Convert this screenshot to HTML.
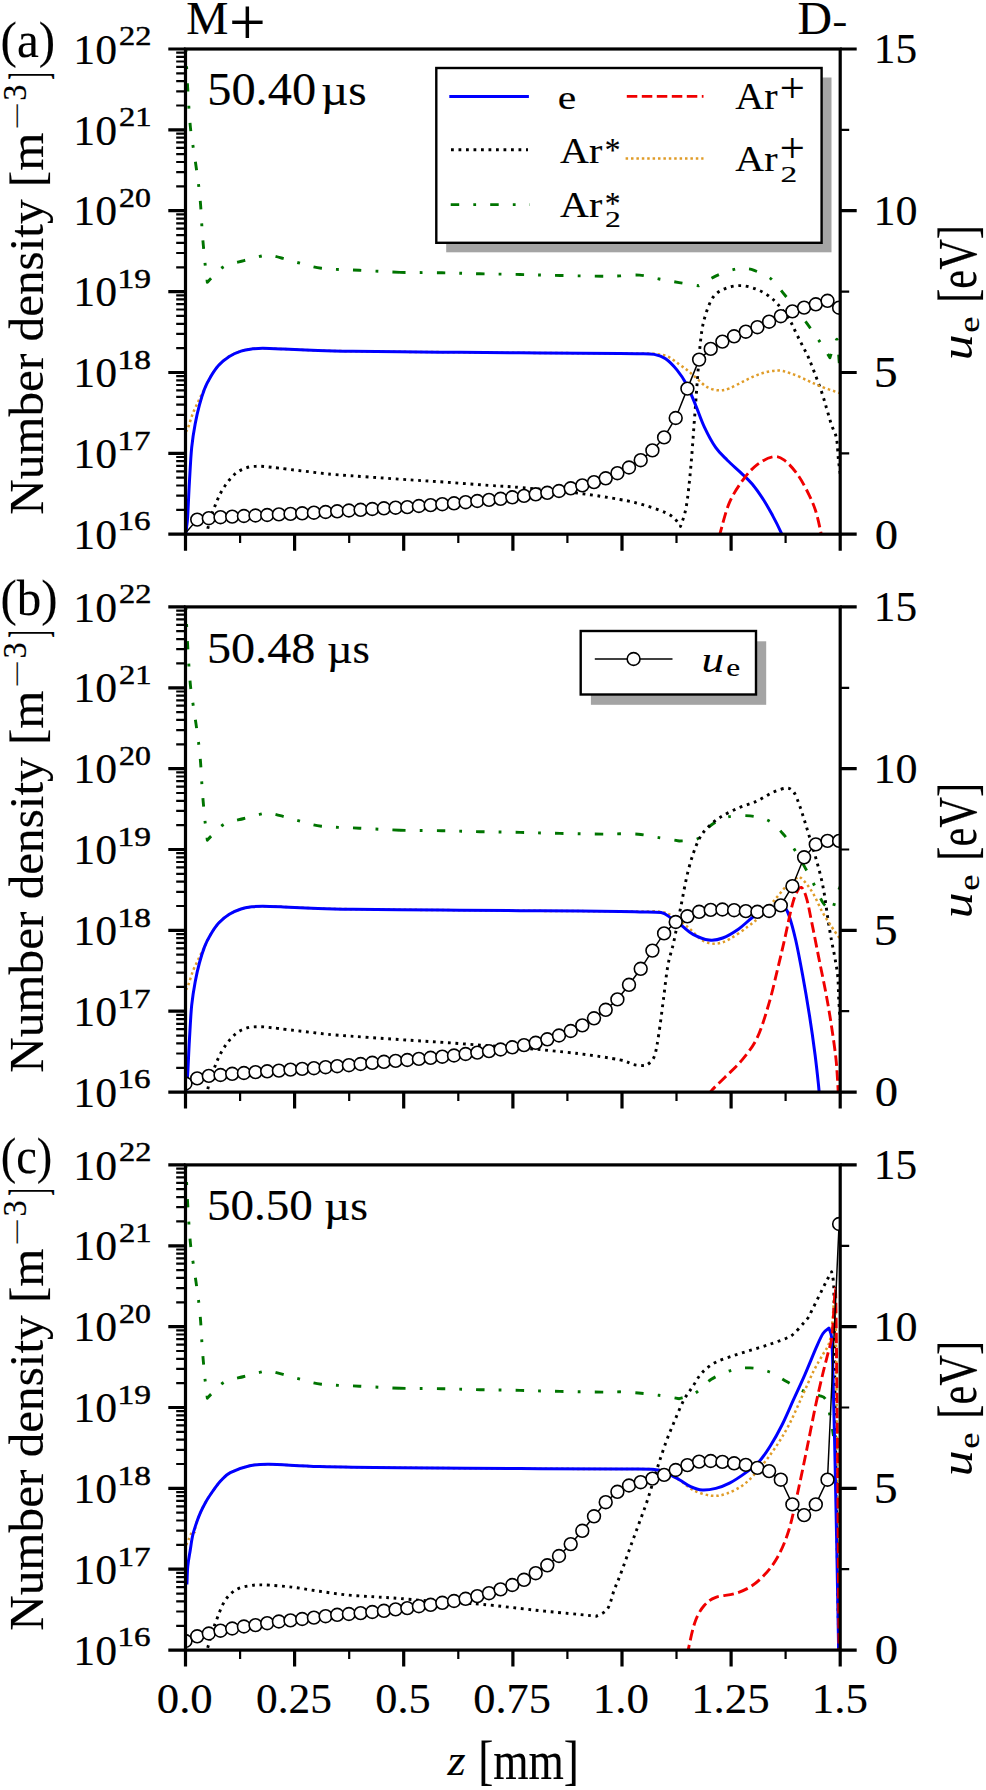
<!DOCTYPE html><html><head><meta charset="utf-8"><style>html,body{margin:0;padding:0;background:#fff;}svg{display:block;}text{font-family:'Liberation Serif', 'DejaVu Serif', serif;fill:#000;stroke:#000;stroke-width:0.15px;}circle{fill:#fff;stroke:#000;stroke-width:1.6;}</style></head><body>
<svg width="986" height="1790" viewBox="0 0 986 1790">
<rect width="986" height="1790" fill="#fff"/>
<clipPath id="c0"><rect x="185.5" y="49" width="654.7" height="485.2"/></clipPath>
<g clip-path="url(#c0)">
<path d="M185.8 50 C186.1 55.8 186.8 72.5 187.5 85 C188.2 97.5 189.3 114.8 190.2 125 C191.1 135.2 192 139.2 193 146 C194 152.8 195.1 159.5 196 166 C196.9 172.5 197.8 178.5 198.6 185 C199.4 191.5 200.1 198.3 200.6 205 C201.1 211.7 201.4 218.3 201.8 225 C202.2 231.7 202.7 238.3 203.3 245 C203.9 251.7 204.5 258.8 205.2 265 C205.9 271.2 207 279.4 207.3 282.3 L207.3 282.3 C208.2 281.3 210.1 279.1 213 276.4 C215.9 273.7 219.6 268.6 224.8 266 C230 263.4 237.7 262.3 244 260.6 C250.3 258.9 258.5 256.7 262.8 255.8 C267.1 254.9 266.6 254.9 270 255.3 C273.4 255.7 277.9 257 283 258.4 C288.1 259.8 294.3 261.8 300.7 263.4 C307.1 265 311.6 267.1 321.4 268.3 C331.2 269.5 346.2 269.6 359.3 270.3 C372.4 271 393.2 272 400 272.4" fill="none" stroke="#007400" stroke-width="2.9" stroke-dasharray="8.5 14.1 2.8 14.1" stroke-linejoin="round" stroke-dashoffset="6.28"/>
<path d="M400 272.4 C407 272.5 428.7 272.6 442 272.8 C455.3 273 467 273.5 480 273.8 C493 274.1 506.7 274.2 520 274.5 C533.3 274.8 546.3 275.2 560 275.5 C573.7 275.8 592 276.1 602 276.2 C612 276.3 617 275.9 620 275.9" fill="none" stroke="#007400" stroke-width="2.9" stroke-dasharray="8.5 14.1 2.8 14.1" stroke-linejoin="round" stroke-dashoffset="2.84"/>
<path d="M620 275.9 C623.3 275.8 633.1 274.6 639.6 275.1 C646.1 275.6 652.6 277.8 659.2 279 C665.8 280.2 672.5 281.5 679.1 282.6 C685.7 283.7 695.5 285.3 698.8 285.8 L698.8 285.8 C701.6 284.2 709.8 278.8 715.6 276.1 C721.5 273.4 729 270.6 733.9 269.4 C738.8 268.1 741.6 268.4 745 268.6 C748.4 268.8 749.8 268.6 754.2 270.4 C758.6 272.1 766.3 275 771.4 279.1 C776.5 283.2 780.5 289.9 784.6 294.8 C788.7 299.7 791.7 303.3 795.7 308.5 C799.8 313.7 804.8 320.5 808.9 326.1 C813 331.7 816.7 337 820.2 342.3 C823.7 347.6 828.3 355.1 829.9 357.7 L829.9 357.7 C830.8 355.2 833.7 345.8 835 343 C836.3 340.2 836.8 337.3 837.5 341 C838.2 344.7 838.9 360.2 839.5 365 C840.1 369.8 840.8 369.2 841 370" fill="none" stroke="#007400" stroke-width="2.9" stroke-dasharray="8.5 14.1 2.8 14.1" stroke-linejoin="round" stroke-dashoffset="24.10"/>
<path d="M206 536 C206.4 534.5 207.3 530.5 208.2 527 C209.1 523.5 210.3 518.6 211.5 515 C212.7 511.4 214.1 508.2 215.2 505.4 C216.3 502.6 217 500.6 218.1 498.3 C219.2 496 220.3 493.6 221.6 491.3 C222.9 489.1 224.3 486.9 225.7 484.8 C227.1 482.8 228.5 480.9 230.2 479 C231.9 477.1 233.8 474.9 235.7 473.3 C237.6 471.7 239.6 470.7 241.8 469.6 C244.1 468.6 246.7 467.6 249.2 467 C251.7 466.4 254.4 466.4 256.8 466.3 C259.2 466.2 261.5 466.3 263.9 466.5 C266.3 466.7 268.9 467 271.4 467.3 C273.9 467.6 275.2 467.7 279 468.1 C282.8 468.6 289 469.4 294 470 C299 470.6 304 471.1 309 471.7 C314 472.3 319 473 324 473.5 C329 474 326.3 473.9 339 474.9 C351.7 475.8 382.4 478 400 479.2 C417.6 480.4 429.7 481.1 444.6 482.1 C459.5 483.1 476.2 484.5 489.2 485.4 C502.2 486.3 507.8 486.4 522.7 487.7 C537.6 489 562.3 491.2 578.5 493.2 C594.7 495.2 609.3 497.6 620 499.5 C630.7 501.4 635.2 502.5 642.8 504.7 C650.4 506.9 660.2 510.3 665.6 512.7 C671 515.1 672.5 516.7 675 519 C677.5 521.3 679.6 525.2 680.5 526.4 L680.5 526.4 C681.5 523.2 684.5 516.7 686.2 507 C687.9 497.3 689.4 482.3 690.7 468.2 C692 454.1 693.1 437.8 694.2 422.6 C695.4 407.4 696.5 391.2 697.6 376.9 C698.7 362.6 699.7 347.3 701 337 C702.3 326.7 703.4 321.8 705.5 315 C707.6 308.2 710.2 300.9 713.6 296.5 C717 292.1 721.2 290.1 725.8 288.3 C730.4 286.5 735.9 285.5 741 285.6 C746.1 285.7 751.6 287.4 756.2 289.1 C760.8 290.8 764.9 293.3 768.4 295.8 C771.9 298.3 774.1 300.1 777.5 303.9 C780.9 307.7 785.8 313.9 788.9 318.7 C792 323.5 793.6 328.1 795.9 332.6 C798.1 337.1 800.2 341.2 802.4 345.5 C804.6 349.8 806.8 353.6 808.9 358.5 C811 363.4 813.1 369 815.3 374.7 C817.4 380.4 819.9 386.8 821.8 392.5 C823.7 398.2 825.1 403.3 826.7 408.7 C828.3 414.1 829.9 420 831.5 424.9 C833.1 429.8 835.2 432 836.4 437.9 C837.6 443.8 837.7 453.5 838.5 460.5 C839.3 467.5 840.6 476.8 841 480" fill="none" stroke="#000" stroke-width="2.9" stroke-dasharray="2.8 4.7" stroke-linejoin="round"/>
<path d="M185.8 432 C186.2 431.2 187 430.6 188.2 427.4 C189.4 424.2 191.2 417.5 193 413 C194.8 408.5 196.9 404.4 198.8 400.4 C200.7 396.3 202.7 392.6 204.6 388.7 C206.5 384.8 208.2 380.8 210.5 376.9 C212.8 373 215.6 368.6 218.7 365.2 C221.8 361.8 225.6 358.8 229.3 356.4 C233 354 237.1 352.4 241 351.1 C244.9 349.8 249.1 349.3 252.7 348.8 C256.3 348.3 257.7 348.3 262.8 348.3 C267.9 348.3 274.2 348.6 283.4 349 C292.6 349.4 306.5 350.1 318 350.5 C329.5 350.9 338.7 351.1 352.4 351.3 C366.1 351.5 382.1 351.6 400 351.8 C417.9 352 440 352.1 460 352.3 C480 352.5 500 352.7 520 352.8 C540 352.9 563.3 353.1 580 353.2 C596.7 353.3 610 353.4 620 353.5 C630 353.6 634.3 353.4 640 353.5 C645.7 353.6 649.6 353.3 654.2 353.8 C658.9 354.3 663.7 354.8 667.9 356.6 C672.1 358.4 675.9 362 679.3 364.4 C682.7 366.8 685.5 368.7 688.5 371.2 C691.5 373.7 694.6 376.6 697.6 379.2 C700.6 381.8 703.3 384.9 706.7 386.8 C710.1 388.7 714.3 390.1 718.1 390.3 C721.9 390.6 724.9 390 729.5 388.3 C734.1 386.6 740.2 382.8 745.5 380.3 C750.8 377.8 756.2 375.1 761.5 373.5 C766.8 371.9 772.5 370.5 777.5 370.5 C782.5 370.5 786.3 371.9 791.2 373.5 C796.1 375.1 802.2 378.1 807.1 380.3 C812 382.5 815.5 384.4 820.8 386.5 C826.1 388.6 835.6 391.6 839.1 392.9 C842.6 394.1 841.5 393.8 842 394" fill="none" stroke="#e09c28" stroke-width="2.5" stroke-dasharray="2.5 2.9" stroke-linejoin="round"/>
<path d="M185.8 536 C185.9 534.5 186.3 530 186.6 527 C186.9 524 187.1 525.1 187.6 517.7 C188.1 510.3 188.7 494.2 189.4 482.5 C190.1 470.8 190.7 457.1 191.7 447.3 C192.7 437.5 193.9 430.8 195.2 423.8 C196.5 416.8 197.8 411 199.4 405.1 C201 399.2 202.8 393.4 204.6 388.7 C206.4 384 208.2 380.8 210.5 376.9 C212.8 373 215.6 368.6 218.7 365.2 C221.8 361.8 225.6 358.8 229.3 356.4 C233 354 237.1 352.4 241 351.1 C244.9 349.8 249.1 349.3 252.7 348.8 C256.3 348.3 257.7 348.3 262.8 348.3 C267.9 348.3 274.2 348.6 283.4 349 C292.6 349.4 306.5 350.1 318 350.5 C329.5 350.9 338.7 351.1 352.4 351.3 C366.1 351.5 382.1 351.6 400 351.8 C417.9 352 440 352.1 460 352.3 C480 352.5 500 352.7 520 352.8 C540 352.9 563.3 353.1 580 353.2 C596.7 353.3 610 353.4 620 353.5 C630 353.6 634.3 353.6 640 353.7 C645.7 353.8 649.9 353.6 654.2 354.4 C658.5 355.2 661.8 356.1 665.6 358.7 C669.4 361.3 673.7 365.9 677.1 370.1 C680.5 374.3 683.2 378.1 686.2 383.8 C689.2 389.5 692.3 397.1 695.3 404.3 C698.3 411.5 701 419.9 704.4 427.1 C707.8 434.3 712 442.2 715.8 447.7 C719.6 453.2 723.1 456 727.3 460.2 C731.5 464.4 736.8 468.8 741 472.8 C745.2 476.8 748.6 479.6 752.4 484.2 C756.2 488.8 760.4 494.9 763.8 500.2 C767.2 505.5 770 510.8 772.9 516.1 C775.8 521.4 779.3 528.6 780.9 532.1 C782.5 535.6 782.2 536.2 782.5 537" fill="none" stroke="#0000ff" stroke-width="3.0" stroke-linejoin="round"/>
<path d="M719.3 537 C719.5 536.2 718.7 537.9 720.4 532.1 C722.1 526.3 725.7 511.1 729.5 502.4 C733.3 493.6 738.6 485.9 743.2 479.6 C747.8 473.3 752 468.6 756.9 464.8 C761.8 461 768.3 457.6 772.9 456.8 C777.5 456 780.1 457.1 784.3 460.2 C788.5 463.2 793.8 469.2 798 475.1 C802.2 481 806.4 489.5 809.4 495.6 C812.4 501.8 814.1 505.9 816 512 C817.9 518.1 819.9 527.9 820.8 532.1 C821.7 536.3 821.4 536.2 821.5 537" fill="none" stroke="#f00000" stroke-width="2.9" stroke-dasharray="10.5 4.5" stroke-linejoin="round"/>
<polyline points="185.5,533 197.2,519.6 208.8,518.2 220.5,517.2 232.2,516.6 243.9,516 255.5,515.5 267.2,515 278.9,514.4 290.5,513.9 302.2,513.3 313.9,512.7 325.6,512 337.2,511.3 348.9,510.5 360.6,509.8 372.3,509 383.9,508.3 395.6,507.7 407.3,507.1 418.9,506 430.6,505.1 442.3,504.2 454,503.3 465.6,502.2 477.3,501 489,499.9 500.6,498.8 512.3,497.3 524,495.9 535.7,494.3 547.3,492.8 559,491 570.7,488.3 582.3,485.4 594,482.1 605.7,478.3 617.4,473.2 629,467.5 640.7,460.2 652.4,450.4 664.1,437.4 675.7,418 687.4,388.6 699.1,359.6 710.7,348.9 722.4,341.6 734.1,336.3 745.8,331.7 757.4,327.2 769.1,321.7 780.8,316.2 792.4,311.4 804.1,307.6 815.8,304.3 827.5,300.8 839.1,307.7" fill="none" stroke="#000" stroke-width="1.5"/>
<circle cx="197.2" cy="519.6" r="6.4"/>
<circle cx="208.8" cy="518.2" r="6.4"/>
<circle cx="220.5" cy="517.2" r="6.4"/>
<circle cx="232.2" cy="516.6" r="6.4"/>
<circle cx="243.9" cy="516" r="6.4"/>
<circle cx="255.5" cy="515.5" r="6.4"/>
<circle cx="267.2" cy="515" r="6.4"/>
<circle cx="278.9" cy="514.4" r="6.4"/>
<circle cx="290.5" cy="513.9" r="6.4"/>
<circle cx="302.2" cy="513.3" r="6.4"/>
<circle cx="313.9" cy="512.7" r="6.4"/>
<circle cx="325.6" cy="512" r="6.4"/>
<circle cx="337.2" cy="511.3" r="6.4"/>
<circle cx="348.9" cy="510.5" r="6.4"/>
<circle cx="360.6" cy="509.8" r="6.4"/>
<circle cx="372.3" cy="509" r="6.4"/>
<circle cx="383.9" cy="508.3" r="6.4"/>
<circle cx="395.6" cy="507.7" r="6.4"/>
<circle cx="407.3" cy="507.1" r="6.4"/>
<circle cx="418.9" cy="506" r="6.4"/>
<circle cx="430.6" cy="505.1" r="6.4"/>
<circle cx="442.3" cy="504.2" r="6.4"/>
<circle cx="454" cy="503.3" r="6.4"/>
<circle cx="465.6" cy="502.2" r="6.4"/>
<circle cx="477.3" cy="501" r="6.4"/>
<circle cx="489" cy="499.9" r="6.4"/>
<circle cx="500.6" cy="498.8" r="6.4"/>
<circle cx="512.3" cy="497.3" r="6.4"/>
<circle cx="524" cy="495.9" r="6.4"/>
<circle cx="535.7" cy="494.3" r="6.4"/>
<circle cx="547.3" cy="492.8" r="6.4"/>
<circle cx="559" cy="491" r="6.4"/>
<circle cx="570.7" cy="488.3" r="6.4"/>
<circle cx="582.3" cy="485.4" r="6.4"/>
<circle cx="594" cy="482.1" r="6.4"/>
<circle cx="605.7" cy="478.3" r="6.4"/>
<circle cx="617.4" cy="473.2" r="6.4"/>
<circle cx="629" cy="467.5" r="6.4"/>
<circle cx="640.7" cy="460.2" r="6.4"/>
<circle cx="652.4" cy="450.4" r="6.4"/>
<circle cx="664.1" cy="437.4" r="6.4"/>
<circle cx="675.7" cy="418" r="6.4"/>
<circle cx="687.4" cy="388.6" r="6.4"/>
<circle cx="699.1" cy="359.6" r="6.4"/>
<circle cx="710.7" cy="348.9" r="6.4"/>
<circle cx="722.4" cy="341.6" r="6.4"/>
<circle cx="734.1" cy="336.3" r="6.4"/>
<circle cx="745.8" cy="331.7" r="6.4"/>
<circle cx="757.4" cy="327.2" r="6.4"/>
<circle cx="769.1" cy="321.7" r="6.4"/>
<circle cx="780.8" cy="316.2" r="6.4"/>
<circle cx="792.4" cy="311.4" r="6.4"/>
<circle cx="804.1" cy="307.6" r="6.4"/>
<circle cx="815.8" cy="304.3" r="6.4"/>
<circle cx="827.5" cy="300.8" r="6.4"/>
<circle cx="839.1" cy="307.7" r="6.4"/>
</g>
<rect x="185.5" y="49" width="654.7" height="485.2" fill="none" stroke="#000" stroke-width="3.2"/>
<path d="M168.3 49H185.5M840.2 49H856.7M168.3 129.9H185.5M168.3 210.7H185.5M840.2 210.7H856.7M168.3 291.6H185.5M168.3 372.5H185.5M840.2 372.5H856.7M168.3 453.3H185.5M168.3 534.2H185.5M840.2 534.2H856.7" stroke="#000" stroke-width="3.2"/>
<path d="M176.2 105.5H185.5M176.2 91.3H185.5M176.2 81.2H185.5M176.2 73.3H185.5M176.2 66.9H185.5M176.2 61.5H185.5M176.2 56.8H185.5M176.2 52.7H185.5M176.2 186.4H185.5M176.2 172.2H185.5M176.2 162H185.5M176.2 154.2H185.5M176.2 147.8H185.5M176.2 142.4H185.5M176.2 137.7H185.5M176.2 133.6H185.5M176.2 267.3H185.5M176.2 253H185.5M176.2 242.9H185.5M176.2 235.1H185.5M176.2 228.7H185.5M176.2 223.3H185.5M176.2 218.6H185.5M176.2 214.4H185.5M176.2 348.1H185.5M176.2 333.9H185.5M176.2 323.8H185.5M176.2 315.9H185.5M176.2 309.5H185.5M176.2 304.1H185.5M176.2 299.4H185.5M176.2 295.3H185.5M176.2 429H185.5M176.2 414.8H185.5M176.2 404.6H185.5M176.2 396.8H185.5M176.2 390.4H185.5M176.2 385H185.5M176.2 380.3H185.5M176.2 376.2H185.5M176.2 509.9H185.5M176.2 495.6H185.5M176.2 485.5H185.5M176.2 477.7H185.5M176.2 471.3H185.5M176.2 465.9H185.5M176.2 461.2H185.5M176.2 457H185.5M840.2 129.9H849.2M840.2 291.6H849.2M840.2 453.3H849.2M240.1 534.2V543M349.2 534.2V543M458.3 534.2V543M567.4 534.2V543M676.5 534.2V543M785.6 534.2V543" stroke="#000" stroke-width="2.2"/>
<path d="M185.5 534.2V550.7M294.6 534.2V550.7M403.7 534.2V550.7M512.9 534.2V550.7M622 534.2V550.7M731.1 534.2V550.7M840.2 534.2V550.7" stroke="#000" stroke-width="3.2"/>
<text x="73.35" y="63.68" font-size="42.53" textLength="43.82" lengthAdjust="spacingAndGlyphs">10</text>
<text x="119.08" y="45.40" font-size="26.88" textLength="32.41" lengthAdjust="spacingAndGlyphs" style="stroke-width:0.45px">22</text>
<text x="73.35" y="144.55" font-size="42.53" textLength="43.82" lengthAdjust="spacingAndGlyphs">10</text>
<text x="119.07" y="126.27" font-size="26.88" textLength="32.59" lengthAdjust="spacingAndGlyphs" style="stroke-width:0.45px">21</text>
<text x="73.35" y="225.42" font-size="42.53" textLength="43.82" lengthAdjust="spacingAndGlyphs">10</text>
<text x="119.10" y="206.88" font-size="26.38" textLength="31.81" lengthAdjust="spacingAndGlyphs" style="stroke-width:0.45px">20</text>
<text x="73.35" y="306.28" font-size="42.53" textLength="43.82" lengthAdjust="spacingAndGlyphs">10</text>
<text x="117.55" y="287.74" font-size="26.49" textLength="33.52" lengthAdjust="spacingAndGlyphs" style="stroke-width:0.45px">19</text>
<text x="73.35" y="387.15" font-size="42.53" textLength="43.82" lengthAdjust="spacingAndGlyphs">10</text>
<text x="117.56" y="368.61" font-size="26.38" textLength="33.41" lengthAdjust="spacingAndGlyphs" style="stroke-width:0.45px">18</text>
<text x="73.35" y="468.02" font-size="42.53" textLength="43.82" lengthAdjust="spacingAndGlyphs">10</text>
<text x="117.59" y="449.73" font-size="26.96" textLength="33.06" lengthAdjust="spacingAndGlyphs" style="stroke-width:0.45px">17</text>
<text x="73.35" y="548.88" font-size="42.53" textLength="43.82" lengthAdjust="spacingAndGlyphs">10</text>
<text x="117.59" y="530.34" font-size="26.49" textLength="33.09" lengthAdjust="spacingAndGlyphs" style="stroke-width:0.45px">16</text>
<text x="873.79" y="63.38" font-size="42.99" textLength="43.30" lengthAdjust="spacingAndGlyphs">15</text>
<text x="873.53" y="225.12" font-size="42.68" textLength="44.05" lengthAdjust="spacingAndGlyphs">10</text>
<text x="873.82" y="386.84" font-size="43.34" textLength="23.96" lengthAdjust="spacingAndGlyphs">5</text>
<text x="874.82" y="548.58" font-size="42.68" textLength="23.36" lengthAdjust="spacingAndGlyphs">0</text>
<g transform="translate(43.0 514) rotate(-90)">
<text x="-0.82" y="0.00" font-size="48.72" textLength="382.28" lengthAdjust="spacingAndGlyphs">Number density [m</text>
<text x="384.45" y="-17.70" font-size="24.09" textLength="27.75" lengthAdjust="spacingAndGlyphs">−</text>
<text x="413.36" y="-17.32" font-size="32.74" textLength="16.10" lengthAdjust="spacingAndGlyphs">3</text>
<text x="434.19" y="3.80" font-size="55.34" textLength="7.48" lengthAdjust="spacingAndGlyphs">]</text>
</g>
<g transform="translate(973.0 359.1) rotate(-90)">
<text x="-1.17" y="-0.95" font-size="46.74" textLength="25.84" lengthAdjust="spacingAndGlyphs" font-style="italic" style="stroke-width:0">u</text>
<text x="26.38" y="5.51" font-size="29.73" textLength="16.19" lengthAdjust="spacingAndGlyphs">e</text>
<text x="56.35" y="2.52" font-size="55.94" textLength="77.70" lengthAdjust="spacingAndGlyphs">[eV]</text>
</g>
<clipPath id="c1"><rect x="185.5" y="606.9" width="654.7" height="485.2"/></clipPath>
<g clip-path="url(#c1)">
<path d="M185.8 607.9 C186.1 613.7 186.8 630.4 187.5 642.9 C188.2 655.4 189.3 672.7 190.2 682.9 C191.1 693.1 192 697.1 193 703.9 C194 710.7 195.1 717.4 196 723.9 C196.9 730.4 197.8 736.4 198.6 742.9 C199.4 749.4 200.1 756.2 200.6 762.9 C201.1 769.6 201.4 776.2 201.8 782.9 C202.2 789.6 202.7 796.2 203.3 802.9 C203.9 809.6 204.5 816.7 205.2 822.9 C205.9 829.1 207 837.3 207.3 840.2 L207.3 840.2 C208.2 839.2 210.1 837 213 834.3 C215.9 831.6 219.6 826.5 224.8 823.9 C230 821.3 237.7 820.2 244 818.5 C250.3 816.8 258.5 814.6 262.8 813.7 C267.1 812.8 266.6 812.8 270 813.2 C273.4 813.6 277.9 814.9 283 816.3 C288.1 817.6 294.3 819.6 300.7 821.3 C307.1 822.9 311.6 825.1 321.4 826.2 C331.2 827.4 346.2 827.5 359.3 828.2 C372.4 828.9 393.2 829.9 400 830.3" fill="none" stroke="#007400" stroke-width="2.9" stroke-dasharray="8.5 14.1 2.8 14.1" stroke-linejoin="round" stroke-dashoffset="6.28"/>
<path d="M400 830.3 C407 830.4 428.7 830.5 442 830.7 C455.3 830.9 467 831.4 480 831.7 C493 832 506.7 832.1 520 832.4 C533.3 832.7 546.3 833.1 560 833.4 C573.7 833.7 592 834 602 834.1 C612 834.2 617 833.8 620 833.8" fill="none" stroke="#007400" stroke-width="2.9" stroke-dasharray="8.5 14.1 2.8 14.1" stroke-linejoin="round" stroke-dashoffset="2.84"/>
<path d="M620 833.8 C623 833.9 631.8 833.6 638.3 834.2 C644.8 834.8 652 836.5 658.8 837.6 C665.6 838.7 675.9 840.4 679.3 841 L679.3 841 C682.3 840.6 692.3 841.4 697.6 838.7 C702.9 836 706.3 828.6 711.3 825 C716.2 821.4 720.8 818.6 727.3 817.1 C733.8 815.6 743.1 815.2 750.1 815.9 C757.1 816.6 763.8 818 769.5 821.2 C775.2 824.4 779.9 830.2 784.3 835.3 C788.7 840.4 792.2 846 795.8 851.6 C799.3 857.2 802.5 862.9 805.6 868.6 C808.7 874.3 811.6 879.8 814.6 885.6 C817.6 891.4 820.5 899.3 823.5 903.5 C826.5 907.7 831 909.4 832.5 910.6 L832.5 910.6 C833.2 907.9 835.5 898.8 836.9 894.5 C838.3 890.2 840.3 886.6 841 885" fill="none" stroke="#007400" stroke-width="2.9" stroke-dasharray="8.5 14.1 2.8 14.1" stroke-linejoin="round" stroke-dashoffset="24.24"/>
<path d="M206 1096.4 C206.4 1094.9 207.3 1090.9 208.2 1087.4 C209.1 1083.9 210.3 1079 211.5 1075.4 C212.7 1071.8 214.1 1068.6 215.2 1065.8 C216.3 1063 217 1061 218.1 1058.7 C219.2 1056.4 220.3 1054 221.6 1051.7 C222.9 1049.5 224.3 1047.2 225.7 1045.2 C227.1 1043.2 228.5 1041.3 230.2 1039.4 C231.9 1037.5 233.8 1035.3 235.7 1033.7 C237.6 1032.1 239.6 1031 241.8 1030 C244.1 1029 246.7 1028 249.2 1027.4 C251.7 1026.9 254.4 1026.8 256.8 1026.7 C259.2 1026.6 261.5 1026.7 263.9 1026.9 C266.3 1027.1 268.9 1027.4 271.4 1027.7 C273.9 1028 275.2 1028 279 1028.5 C282.8 1029 289 1029.8 294 1030.4 C299 1031 304 1031.5 309 1032.1 C314 1032.7 319 1033.4 324 1033.9 C329 1034.4 326.3 1034.3 339 1035.3 C351.7 1036.2 382.4 1038.4 400 1039.6 C417.6 1040.8 429.7 1041.5 444.6 1042.5 C459.5 1043.5 476.2 1044.9 489.2 1045.8 C502.2 1046.7 507.8 1046.8 522.7 1048.1 C537.6 1049.4 562.3 1051.6 578.5 1053.6 C594.7 1055.6 610.8 1058.1 620 1059.9 C629.2 1061.8 629.3 1063.7 633.7 1064.7 C638.1 1065.7 644.1 1065.6 646.2 1065.8 L646.2 1065.8 C647.5 1064.3 652.1 1062 654.2 1056.7 C656.3 1051.4 657.3 1043.4 658.8 1033.9 C660.3 1024.4 661.9 1011 663.4 999.6 C664.9 988.2 666.2 974.9 667.9 965.4 C669.6 955.9 671.5 952.1 673.6 942.6 C675.7 933.1 678 920.5 680.5 908.3 C683 896.1 685.6 880.5 688.5 869.5 C691.4 858.5 694.6 849 697.6 842.2 C700.6 835.4 702.9 832.7 706.7 828.5 C710.5 824.3 715.1 820.5 720.4 817.1 C725.7 813.7 732.6 810.6 738.7 807.9 C744.8 805.2 751.3 803.7 756.9 801.1 C762.5 798.5 767.5 794.7 772.5 792.5 C777.5 790.3 783.2 788.1 786.8 788.1 C790.4 788.1 791.9 789.7 794 792.5 C796.1 795.3 797.6 800.2 799.4 805 C801.2 809.8 802.9 815.5 804.7 821.2 C806.5 826.9 808.3 833 810.1 839 C811.9 845 813.7 850.6 815.5 856.9 C817.3 863.2 819.3 870.3 820.8 876.6 C822.3 882.9 823.2 887.3 824.4 894.5 C825.6 901.7 826.8 911.9 828 919.6 C829.2 927.4 830.4 934.5 831.6 941 C832.8 947.5 834.1 952.9 835.1 958.9 C836.1 964.9 837.2 970.2 837.8 976.8 C838.4 983.4 838.3 991.1 838.7 998.3 C839.1 1005.5 839.8 1016.4 840 1020" fill="none" stroke="#000" stroke-width="2.9" stroke-dasharray="2.8 4.7" stroke-linejoin="round"/>
<path d="M185.8 989.9 C186.2 989.1 187 988.5 188.2 985.3 C189.4 982.1 191.2 975.4 193 970.9 C194.8 966.4 196.9 962.3 198.8 958.3 C200.7 954.2 202.7 950.5 204.6 946.6 C206.5 942.7 208.2 938.7 210.5 934.8 C212.8 930.9 215.6 926.5 218.7 923.1 C221.8 919.7 225.6 916.6 229.3 914.3 C233 911.9 237.1 910.3 241 909 C244.9 907.7 249.1 907.2 252.7 906.7 C256.3 906.2 257.7 906.2 262.8 906.2 C267.9 906.2 274.2 906.5 283.4 906.9 C292.6 907.3 306.5 908 318 908.4 C329.5 908.8 338.7 909 352.4 909.2 C366.1 909.4 382.1 909.5 400 909.7 C417.9 909.9 440 910 460 910.2 C480 910.4 500 910.6 520 910.7 C540 910.9 563.3 911 580 911.1 C596.7 911.2 610 911.3 620 911.4 C630 911.5 633.1 911.5 640 911.6 C646.9 911.7 655.3 910.8 661.1 911.8 C666.9 912.8 670.2 914.9 674.8 917.5 C679.4 920.1 683.9 923.9 688.5 927.7 C693.1 931.5 697.7 937.6 702.2 940.3 C706.8 943 711.2 943.9 715.8 943.7 C720.3 943.5 724.2 942 729.5 939.1 C734.8 936.2 742.5 930.6 747.8 926.6 C753.1 922.6 756.9 919.8 761.5 915.2 C766.1 910.6 770.6 904.5 775.2 899.2 C779.8 893.9 785.2 886.8 788.9 883.2 C792.6 879.6 795.7 878.5 797.6 877.5 C799.5 876.5 798.8 876.5 800.3 877.5 C801.8 878.5 804.3 881 806.5 883.8 C808.7 886.6 811 889.7 813.7 894.5 C816.4 899.3 819.6 907 822.6 912.4 C825.6 917.8 829.1 922.8 831.6 926.7 C834.1 930.6 836.1 933.5 837.8 935.7 C839.5 937.9 841.3 939.3 842 940" fill="none" stroke="#e09c28" stroke-width="2.5" stroke-dasharray="2.5 2.9" stroke-linejoin="round"/>
<path d="M185.8 1093.9 C185.9 1092.4 186.3 1088 186.6 1084.9 C186.9 1081.9 187.1 1083 187.6 1075.6 C188.1 1068.2 188.7 1052.1 189.4 1040.4 C190.1 1028.7 190.7 1015 191.7 1005.2 C192.7 995.4 193.9 988.7 195.2 981.7 C196.5 974.7 197.8 968.9 199.4 963 C201 957.1 202.8 951.3 204.6 946.6 C206.4 941.9 208.2 938.7 210.5 934.8 C212.8 930.9 215.6 926.5 218.7 923.1 C221.8 919.7 225.6 916.6 229.3 914.3 C233 911.9 237.1 910.3 241 909 C244.9 907.7 249.1 907.2 252.7 906.7 C256.3 906.2 257.7 906.2 262.8 906.2 C267.9 906.2 274.2 906.5 283.4 906.9 C292.6 907.3 306.5 908 318 908.4 C329.5 908.8 338.7 909 352.4 909.2 C366.1 909.4 382.1 909.5 400 909.7 C417.9 909.9 440 910 460 910.2 C480 910.4 500 910.6 520 910.7 C540 910.9 563.3 911 580 911.1 C596.7 911.2 610 911.3 620 911.4 C630 911.5 633.1 911.7 640 911.9 C646.9 912.1 656.1 911.7 661.1 912.6 C666.1 913.5 666.8 915.4 670.2 917.5 C673.6 919.6 677.8 922.7 681.6 925.5 C685.4 928.3 688.4 931.9 693 934.3 C697.6 936.7 704 939.4 709 940 C714 940.6 717.8 939.9 722.7 938 C727.7 936.1 733.8 932.3 738.7 928.9 C743.7 925.5 747.9 920.7 752.4 917.5 C756.9 914.3 761.7 911.3 766 909.5 C770.3 907.7 775 906.9 778 906.5 C781 906.1 782.5 905.5 784.3 907 C786.1 908.5 787 909.7 788.9 915.2 C790.8 920.7 793.4 930 795.7 940 C798 950 800.3 962.5 802.6 975 C804.9 987.5 807.3 1001.7 809.4 1015 C811.5 1028.3 813.6 1043.3 815.1 1055 C816.6 1066.7 817.8 1078.3 818.5 1085 C819.2 1091.7 819.2 1093.3 819.3 1095" fill="none" stroke="#0000ff" stroke-width="3.0" stroke-linejoin="round"/>
<path d="M710 1095 C710.2 1094.3 708.8 1093.9 711.3 1090.9 C713.8 1087.9 720 1082.2 725 1077.2 C730 1072.2 735.7 1067.7 741 1061.2 C746.3 1054.7 752.2 1048 756.9 1038.4 C761.5 1028.8 765.4 1015.5 768.9 1003.7 C772.4 992 775.2 978.9 777.9 967.9 C780.6 956.9 782.8 947.4 785 937.5 C787.2 927.6 789.5 916 791.3 908.8 C793.1 901.6 794.1 898.1 795.8 894.5 C797.4 890.9 799.4 886.8 801.2 887.4 C803 888 804.7 892.1 806.5 898.1 C808.3 904.1 809.8 913 811.9 923.1 C814 933.2 816.6 947 819 958.9 C821.4 970.8 824.1 983.4 826.2 994.7 C828.3 1006 830 1016.2 831.6 1026.9 C833.2 1037.6 835 1049.5 836 1059.1 C837 1068.6 837.4 1078.2 837.8 1084.2 C838.2 1090.2 838.2 1093.2 838.3 1095" fill="none" stroke="#f00000" stroke-width="2.9" stroke-dasharray="10.5 4.5" stroke-linejoin="round"/>
<polyline points="185.5,1083.5 197.2,1078.4 208.8,1075.9 220.5,1075 232.2,1073.8 243.9,1073 255.5,1072.1 267.2,1071.3 278.9,1070.6 290.5,1069.6 302.2,1068.9 313.9,1068.2 325.6,1067.2 337.2,1066.2 348.9,1065.2 360.6,1064 372.3,1062.8 383.9,1061.8 395.6,1060.9 407.3,1060 418.9,1058.9 430.6,1057.8 442.3,1056.7 454,1055.5 465.6,1054 477.3,1052.6 489,1051.1 500.6,1049.5 512.3,1047.3 524,1045.1 535.7,1042.8 547.3,1039.3 559,1035.5 570.7,1031 582.3,1025.4 594,1018.3 605.7,1009.8 617.4,999.4 629,984.8 640.7,968.8 652.4,950.6 664.1,933.4 675.7,922 687.4,916.3 699.1,911.8 710.7,909.9 722.4,909.5 734.1,910.2 745.8,911.1 757.4,911.8 769.1,911 780.8,905.4 792.4,886.2 804.1,857.3 815.8,844.4 827.5,840.9 839.1,840.9" fill="none" stroke="#000" stroke-width="1.5"/>
<circle cx="185.5" cy="1083.5" r="6.4"/>
<circle cx="197.2" cy="1078.4" r="6.4"/>
<circle cx="208.8" cy="1075.9" r="6.4"/>
<circle cx="220.5" cy="1075" r="6.4"/>
<circle cx="232.2" cy="1073.8" r="6.4"/>
<circle cx="243.9" cy="1073" r="6.4"/>
<circle cx="255.5" cy="1072.1" r="6.4"/>
<circle cx="267.2" cy="1071.3" r="6.4"/>
<circle cx="278.9" cy="1070.6" r="6.4"/>
<circle cx="290.5" cy="1069.6" r="6.4"/>
<circle cx="302.2" cy="1068.9" r="6.4"/>
<circle cx="313.9" cy="1068.2" r="6.4"/>
<circle cx="325.6" cy="1067.2" r="6.4"/>
<circle cx="337.2" cy="1066.2" r="6.4"/>
<circle cx="348.9" cy="1065.2" r="6.4"/>
<circle cx="360.6" cy="1064" r="6.4"/>
<circle cx="372.3" cy="1062.8" r="6.4"/>
<circle cx="383.9" cy="1061.8" r="6.4"/>
<circle cx="395.6" cy="1060.9" r="6.4"/>
<circle cx="407.3" cy="1060" r="6.4"/>
<circle cx="418.9" cy="1058.9" r="6.4"/>
<circle cx="430.6" cy="1057.8" r="6.4"/>
<circle cx="442.3" cy="1056.7" r="6.4"/>
<circle cx="454" cy="1055.5" r="6.4"/>
<circle cx="465.6" cy="1054" r="6.4"/>
<circle cx="477.3" cy="1052.6" r="6.4"/>
<circle cx="489" cy="1051.1" r="6.4"/>
<circle cx="500.6" cy="1049.5" r="6.4"/>
<circle cx="512.3" cy="1047.3" r="6.4"/>
<circle cx="524" cy="1045.1" r="6.4"/>
<circle cx="535.7" cy="1042.8" r="6.4"/>
<circle cx="547.3" cy="1039.3" r="6.4"/>
<circle cx="559" cy="1035.5" r="6.4"/>
<circle cx="570.7" cy="1031" r="6.4"/>
<circle cx="582.3" cy="1025.4" r="6.4"/>
<circle cx="594" cy="1018.3" r="6.4"/>
<circle cx="605.7" cy="1009.8" r="6.4"/>
<circle cx="617.4" cy="999.4" r="6.4"/>
<circle cx="629" cy="984.8" r="6.4"/>
<circle cx="640.7" cy="968.8" r="6.4"/>
<circle cx="652.4" cy="950.6" r="6.4"/>
<circle cx="664.1" cy="933.4" r="6.4"/>
<circle cx="675.7" cy="922" r="6.4"/>
<circle cx="687.4" cy="916.3" r="6.4"/>
<circle cx="699.1" cy="911.8" r="6.4"/>
<circle cx="710.7" cy="909.9" r="6.4"/>
<circle cx="722.4" cy="909.5" r="6.4"/>
<circle cx="734.1" cy="910.2" r="6.4"/>
<circle cx="745.8" cy="911.1" r="6.4"/>
<circle cx="757.4" cy="911.8" r="6.4"/>
<circle cx="769.1" cy="911" r="6.4"/>
<circle cx="780.8" cy="905.4" r="6.4"/>
<circle cx="792.4" cy="886.2" r="6.4"/>
<circle cx="804.1" cy="857.3" r="6.4"/>
<circle cx="815.8" cy="844.4" r="6.4"/>
<circle cx="827.5" cy="840.9" r="6.4"/>
<circle cx="839.1" cy="840.9" r="6.4"/>
</g>
<rect x="185.5" y="606.9" width="654.7" height="485.2" fill="none" stroke="#000" stroke-width="3.2"/>
<path d="M168.3 606.9H185.5M840.2 606.9H856.7M168.3 687.8H185.5M168.3 768.6H185.5M840.2 768.6H856.7M168.3 849.5H185.5M168.3 930.4H185.5M840.2 930.4H856.7M168.3 1011.2H185.5M168.3 1092.1H185.5M840.2 1092.1H856.7" stroke="#000" stroke-width="3.2"/>
<path d="M176.2 663.4H185.5M176.2 649.2H185.5M176.2 639.1H185.5M176.2 631.2H185.5M176.2 624.8H185.5M176.2 619.4H185.5M176.2 614.7H185.5M176.2 610.6H185.5M176.2 744.3H185.5M176.2 730.1H185.5M176.2 719.9H185.5M176.2 712.1H185.5M176.2 705.7H185.5M176.2 700.3H185.5M176.2 695.6H185.5M176.2 691.5H185.5M176.2 825.2H185.5M176.2 810.9H185.5M176.2 800.8H185.5M176.2 793H185.5M176.2 786.6H185.5M176.2 781.2H185.5M176.2 776.5H185.5M176.2 772.3H185.5M176.2 906H185.5M176.2 891.8H185.5M176.2 881.7H185.5M176.2 873.8H185.5M176.2 867.4H185.5M176.2 862H185.5M176.2 857.3H185.5M176.2 853.2H185.5M176.2 986.9H185.5M176.2 972.7H185.5M176.2 962.5H185.5M176.2 954.7H185.5M176.2 948.3H185.5M176.2 942.9H185.5M176.2 938.2H185.5M176.2 934.1H185.5M176.2 1067.8H185.5M176.2 1053.5H185.5M176.2 1043.4H185.5M176.2 1035.6H185.5M176.2 1029.2H185.5M176.2 1023.8H185.5M176.2 1019.1H185.5M176.2 1014.9H185.5M840.2 687.8H849.2M840.2 849.5H849.2M840.2 1011.2H849.2M240.1 1092.1V1100.9M349.2 1092.1V1100.9M458.3 1092.1V1100.9M567.4 1092.1V1100.9M676.5 1092.1V1100.9M785.6 1092.1V1100.9" stroke="#000" stroke-width="2.2"/>
<path d="M185.5 1092.1V1108.6M294.6 1092.1V1108.6M403.7 1092.1V1108.6M512.9 1092.1V1108.6M622 1092.1V1108.6M731.1 1092.1V1108.6M840.2 1092.1V1108.6" stroke="#000" stroke-width="3.2"/>
<text x="73.35" y="621.58" font-size="42.53" textLength="43.82" lengthAdjust="spacingAndGlyphs">10</text>
<text x="119.08" y="603.30" font-size="26.88" textLength="32.41" lengthAdjust="spacingAndGlyphs" style="stroke-width:0.45px">22</text>
<text x="73.35" y="702.45" font-size="42.53" textLength="43.82" lengthAdjust="spacingAndGlyphs">10</text>
<text x="119.07" y="684.17" font-size="26.88" textLength="32.59" lengthAdjust="spacingAndGlyphs" style="stroke-width:0.45px">21</text>
<text x="73.35" y="783.32" font-size="42.53" textLength="43.82" lengthAdjust="spacingAndGlyphs">10</text>
<text x="119.10" y="764.78" font-size="26.38" textLength="31.81" lengthAdjust="spacingAndGlyphs" style="stroke-width:0.45px">20</text>
<text x="73.35" y="864.18" font-size="42.53" textLength="43.82" lengthAdjust="spacingAndGlyphs">10</text>
<text x="117.55" y="845.64" font-size="26.49" textLength="33.52" lengthAdjust="spacingAndGlyphs" style="stroke-width:0.45px">19</text>
<text x="73.35" y="945.05" font-size="42.53" textLength="43.82" lengthAdjust="spacingAndGlyphs">10</text>
<text x="117.56" y="926.51" font-size="26.38" textLength="33.41" lengthAdjust="spacingAndGlyphs" style="stroke-width:0.45px">18</text>
<text x="73.35" y="1025.92" font-size="42.53" textLength="43.82" lengthAdjust="spacingAndGlyphs">10</text>
<text x="117.59" y="1007.63" font-size="26.96" textLength="33.06" lengthAdjust="spacingAndGlyphs" style="stroke-width:0.45px">17</text>
<text x="73.35" y="1106.78" font-size="42.53" textLength="43.82" lengthAdjust="spacingAndGlyphs">10</text>
<text x="117.59" y="1088.24" font-size="26.49" textLength="33.09" lengthAdjust="spacingAndGlyphs" style="stroke-width:0.45px">16</text>
<text x="873.79" y="621.28" font-size="42.99" textLength="43.30" lengthAdjust="spacingAndGlyphs">15</text>
<text x="873.53" y="783.02" font-size="42.68" textLength="44.05" lengthAdjust="spacingAndGlyphs">10</text>
<text x="873.82" y="944.74" font-size="43.34" textLength="23.96" lengthAdjust="spacingAndGlyphs">5</text>
<text x="874.82" y="1106.48" font-size="42.68" textLength="23.36" lengthAdjust="spacingAndGlyphs">0</text>
<g transform="translate(43.0 1071.9) rotate(-90)">
<text x="-0.82" y="0.00" font-size="48.72" textLength="382.28" lengthAdjust="spacingAndGlyphs">Number density [m</text>
<text x="384.45" y="-17.70" font-size="24.09" textLength="27.75" lengthAdjust="spacingAndGlyphs">−</text>
<text x="413.36" y="-17.32" font-size="32.74" textLength="16.10" lengthAdjust="spacingAndGlyphs">3</text>
<text x="434.19" y="3.80" font-size="55.34" textLength="7.48" lengthAdjust="spacingAndGlyphs">]</text>
</g>
<g transform="translate(973.0 917) rotate(-90)">
<text x="-1.17" y="-0.95" font-size="46.74" textLength="25.84" lengthAdjust="spacingAndGlyphs" font-style="italic" style="stroke-width:0">u</text>
<text x="26.38" y="5.51" font-size="29.73" textLength="16.19" lengthAdjust="spacingAndGlyphs">e</text>
<text x="56.35" y="2.52" font-size="55.94" textLength="77.70" lengthAdjust="spacingAndGlyphs">[eV]</text>
</g>
<clipPath id="c2"><rect x="185.5" y="1164.9" width="654.7" height="485.2"/></clipPath>
<g clip-path="url(#c2)">
<path d="M185.8 1165.9 C186.1 1171.7 186.8 1188.4 187.5 1200.9 C188.2 1213.4 189.3 1230.7 190.2 1240.9 C191.1 1251.1 192 1255.1 193 1261.9 C194 1268.7 195.1 1275.4 196 1281.9 C196.9 1288.4 197.8 1294.4 198.6 1300.9 C199.4 1307.4 200.1 1314.2 200.6 1320.9 C201.1 1327.6 201.4 1334.2 201.8 1340.9 C202.2 1347.6 202.7 1354.2 203.3 1360.9 C203.9 1367.6 204.5 1374.7 205.2 1380.9 C205.9 1387.1 207 1395.3 207.3 1398.2 L207.3 1398.2 C208.2 1397.2 210.1 1395 213 1392.3 C215.9 1389.6 219.6 1384.5 224.8 1381.9 C230 1379.3 237.7 1378.2 244 1376.5 C250.3 1374.8 258.5 1372.6 262.8 1371.7 C267.1 1370.8 266.6 1370.8 270 1371.2 C273.4 1371.6 277.9 1373 283 1374.3 C288.1 1375.7 294.3 1377.7 300.7 1379.3 C307.1 1381 311.6 1383.1 321.4 1384.2 C331.2 1385.3 346.2 1385.5 359.3 1386.2 C372.4 1386.9 393.2 1388 400 1388.3" fill="none" stroke="#007400" stroke-width="2.9" stroke-dasharray="8.5 14.1 2.8 14.1" stroke-linejoin="round" stroke-dashoffset="6.28"/>
<path d="M400 1388.3 C407 1388.4 428.7 1388.5 442 1388.7 C455.3 1388.9 467 1389.4 480 1389.7 C493 1390 506.7 1390.1 520 1390.4 C533.3 1390.7 546.3 1391.1 560 1391.4 C573.7 1391.7 592 1392 602 1392.1 C612 1392.2 617 1391.9 620 1391.8" fill="none" stroke="#007400" stroke-width="2.9" stroke-dasharray="8.5 14.1 2.8 14.1" stroke-linejoin="round" stroke-dashoffset="2.84"/>
<path d="M620 1391.8 C623 1392 631.8 1392.4 638.3 1393 C644.8 1393.6 652 1394.3 658.8 1395.3 C665.6 1396.2 675.9 1398.1 679.3 1398.7 L679.3 1398.7 C682 1397.8 690 1396.2 695.3 1393 C700.6 1389.8 705.2 1383.1 711.3 1379.3 C717.4 1375.5 725.3 1372.1 731.8 1370.2 C738.3 1368.3 743.8 1367.6 750.1 1367.9 C756.4 1368.2 763.4 1369.7 769.5 1372 C775.6 1374.3 781.1 1378.5 786.6 1381.6 C792.1 1384.7 797.3 1388.4 802.6 1390.7 C807.9 1393 814.5 1393.6 818.5 1395.3 C822.5 1397 824.3 1396 826.5 1401 C828.7 1406 830.4 1419.2 831.6 1425 C832.8 1430.8 833.2 1434.2 833.5 1436" fill="none" stroke="#007400" stroke-width="2.9" stroke-dasharray="8.5 14.1 2.8 14.1" stroke-linejoin="round" stroke-dashoffset="24.21"/>
<path d="M206 1655 C206.3 1653.7 206.9 1650.9 207.9 1647.2 C208.9 1643.5 210.6 1637.4 212 1633 C213.4 1628.6 214.2 1625.9 216.3 1620.6 C218.4 1615.3 221.4 1606.2 224.7 1601.1 C227.9 1596 231.6 1592.5 235.8 1589.9 C240 1587.3 245.1 1586.5 249.8 1585.7 C254.5 1584.9 256.8 1584.7 263.8 1584.9 C270.8 1585.1 282.4 1586 291.7 1587.1 C301 1588.2 310.3 1590 319.6 1591.3 C328.9 1592.6 338.2 1594.1 347.5 1595 C356.8 1595.9 366.6 1596.3 375.4 1596.9 C384.1 1597.5 388.5 1597.6 400 1598.5 C411.5 1599.4 430.8 1601.2 444.6 1602.2 C458.4 1603.2 467.7 1603.1 482.6 1604.4 C497.5 1605.7 517.9 1608.3 533.9 1610 C549.9 1611.7 568.1 1613.4 578.5 1614.4 C588.9 1615.4 593.3 1615.9 596.3 1616.2 L596.3 1616.2 C598.2 1615 604.5 1613.3 607.5 1608.9 C610.5 1604.5 612.1 1595.5 614.2 1589.9 C616.3 1584.4 617.5 1582.2 620 1575.6 C622.5 1569 626.1 1558.9 629.1 1550.5 C632.1 1542.1 635.2 1533.8 638.3 1525.4 C641.3 1517 644.4 1509.4 647.4 1500.3 C650.4 1491.2 653.5 1480.1 656.5 1470.6 C659.5 1461.1 662.6 1451.6 665.6 1443.2 C668.6 1434.8 671.8 1427.6 674.8 1420.4 C677.8 1413.2 680.9 1405.6 683.9 1399.9 C686.9 1394.2 690 1390.8 693 1386.2 C696 1381.6 698.4 1376.5 702.2 1372.5 C706 1368.5 710.5 1365 715.8 1362.2 C721.1 1359.4 728 1357.5 734.1 1355.4 C740.2 1353.3 746.3 1351.6 752.4 1349.7 C758.5 1347.8 764.9 1346 770.6 1344 C776.3 1342 782.9 1339.7 786.8 1338 C790.7 1336.3 791.3 1336 794 1333.6 C796.7 1331.2 800.6 1326.4 803 1323.7 C805.4 1321 806.8 1319.7 808.3 1317.5 C809.8 1315.3 810.4 1313.3 811.9 1310.3 C813.4 1307.3 815.5 1303.2 817.3 1299.6 C819.1 1296 821 1292.1 822.6 1288.8 C824.2 1285.5 825.6 1282.7 827.1 1279.9 C828.6 1277.1 830.9 1273.2 831.6 1271.8 L831.6 1271.8 C831.9 1273.5 833 1277 833.4 1281.7 C833.8 1286.4 833.7 1280.3 834 1300 C834.3 1319.7 834.6 1366.7 835 1400 C835.4 1433.3 836 1466.7 836.5 1500 C837 1533.3 837.6 1574.2 838 1600 C838.4 1625.8 838.8 1645.8 839 1655" fill="none" stroke="#000" stroke-width="2.9" stroke-dasharray="2.8 4.7" stroke-linejoin="round"/>
<path d="M186.2 1545 C186.6 1544.2 187.3 1542.3 188.4 1540 C189.5 1537.7 191.5 1532.3 192.6 1531 C193.7 1529.7 194.5 1532.9 195 1532 C195.5 1531.1 194.7 1528.6 195.6 1525.4 C196.5 1522.2 198.6 1516.8 200.3 1512.9 C202 1509 203.7 1505.6 205.8 1501.9 C207.9 1498.2 210.4 1494.6 212.9 1491 C215.4 1487.4 218.1 1483.5 221 1480.5 C223.9 1477.5 225.5 1475.2 230.3 1472.7 C235.1 1470.2 243.3 1467.1 249.8 1465.7 C256.3 1464.3 257.7 1464.2 269.3 1464.3 C280.9 1464.4 297.8 1465.9 319.6 1466.5 C341.4 1467.1 366.6 1467.4 400 1467.7 C433.4 1468 483.3 1468.4 520 1468.6 C556.7 1468.8 597.6 1469 620 1469.1 C642.4 1469.2 646.6 1468.6 654.2 1469.2 C661.8 1469.8 661.4 1471.1 665.6 1472.9 C669.8 1474.7 674.7 1477.2 679.3 1480 C683.9 1482.8 687.7 1487.4 693 1490 C698.3 1492.6 705.6 1495.1 711.3 1495.7 C717 1496.3 721.6 1495.5 727.3 1493.4 C733 1491.3 739.8 1487.8 745.5 1483.2 C751.2 1478.6 756.5 1471.9 761.5 1466 C766.5 1460.1 770.6 1454.6 775.2 1447.8 C779.8 1441 784.3 1433.8 788.9 1425 C793.5 1416.2 798.4 1404.4 802.6 1395.3 C806.8 1386.2 810.6 1377 814 1370.2 C817.4 1363.4 820.8 1358.2 823.1 1354.2 C825.4 1350.2 826.7 1349.2 828 1346 C829.3 1342.8 830.2 1340.2 831 1335 C831.8 1329.8 832.7 1318.3 833 1315 L833 1315 C833.2 1312.5 834 1295.8 834.5 1300 C835 1304.2 835.6 1315 836 1340 C836.4 1365 836.7 1413.3 837 1450 C837.3 1486.7 837.7 1525.8 838 1560 C838.3 1594.2 838.8 1639.2 839 1655" fill="none" stroke="#e09c28" stroke-width="2.5" stroke-dasharray="2.5 2.9" stroke-linejoin="round"/>
<path d="M186.9 1584.5 C187.1 1581.4 187.2 1571.8 187.8 1566.1 C188.4 1560.4 189.4 1555.4 190.2 1550.4 C191 1545.4 191.6 1540.5 192.5 1536.3 C193.4 1532.1 194.3 1529.3 195.6 1525.4 C196.9 1521.5 198.6 1516.8 200.3 1512.9 C202 1509 203.7 1505.6 205.8 1501.9 C207.9 1498.2 210.4 1494.6 212.9 1491 C215.4 1487.4 218.1 1483.5 221 1480.5 C223.9 1477.5 225.5 1475.2 230.3 1472.7 C235.1 1470.2 243.3 1467.1 249.8 1465.7 C256.3 1464.3 257.7 1464.2 269.3 1464.3 C280.9 1464.4 297.8 1465.9 319.6 1466.5 C341.4 1467.1 366.6 1467.4 400 1467.7 C433.4 1468 483.3 1468.4 520 1468.6 C556.7 1468.8 597.6 1468.9 620 1469.1 C642.4 1469.2 646.6 1468.9 654.2 1469.5 C661.8 1470.1 661.4 1470.8 665.6 1472.5 C669.8 1474.2 675.1 1477.4 679.3 1479.7 C683.5 1482 686.9 1484.9 690.7 1486.6 C694.5 1488.3 698 1489.7 702.2 1490 C706.4 1490.3 711.2 1489.5 715.8 1488.4 C720.3 1487.3 724.5 1485.8 729.5 1483.2 C734.5 1480.6 740.5 1476.5 745.5 1472.9 C750.5 1469.3 755 1466.1 759.2 1461.5 C763.4 1456.9 766.8 1451.6 770.6 1445.5 C774.4 1439.4 778.2 1432.6 782 1425 C785.8 1417.4 789.6 1408.3 793.4 1399.9 C797.2 1391.5 801 1383.5 804.8 1374.8 C808.6 1366 813.3 1354.3 816.3 1347.4 C819.3 1340.5 820.9 1336.7 823 1333.5 C825.1 1330.3 827.9 1329.1 828.9 1328.2 L828.9 1328.2 C829.4 1329.7 831 1332.3 831.6 1337.1 C832.2 1341.9 832.2 1347.5 832.5 1356.8 C832.8 1366 833.1 1380.7 833.4 1392.6 C833.7 1404.5 834 1416.5 834.3 1428.4 C834.6 1440.3 834.7 1444.2 835.1 1464.2 C835.5 1484.2 836.2 1517.5 836.8 1548.2 C837.4 1578.9 838.2 1630.8 838.6 1648.6 C839 1666.4 838.9 1653.9 839 1655" fill="none" stroke="#0000ff" stroke-width="3.0" stroke-linejoin="round"/>
<path d="M688 1655 C688.1 1653.9 687.3 1654.2 688.5 1648.6 C689.7 1643 692.6 1628.4 695.3 1621.2 C697.9 1614 701 1609.3 704.4 1605.3 C707.8 1601.3 710.8 1599.2 715.8 1597.3 C720.8 1595.4 728.4 1595.5 734.1 1593.8 C739.8 1592.1 745.2 1590 750.1 1587 C755 1584 759.2 1580.5 763.8 1575.6 C768.4 1570.6 773.3 1564.9 777.5 1557.3 C781.7 1549.7 785.5 1541 788.9 1530 C792.3 1519 795 1504.9 798 1491.2 C801 1477.5 804.1 1462.6 807.1 1447.8 C810.1 1433 813.6 1414.8 816.3 1402.2 C819 1389.7 821.1 1380.7 823.1 1372.5 C825.1 1364.3 826.6 1358.8 828 1353.2 C829.4 1347.6 830.7 1344.9 831.6 1338.9 C832.5 1333 833 1323.5 833.4 1317.5 C833.8 1311.5 834.1 1305.4 834.3 1303 L834.3 1303 C834.5 1300.8 835.1 1282.2 835.5 1290 C835.9 1297.8 836.2 1323.3 836.5 1350 C836.8 1376.7 837.2 1416.7 837.5 1450 C837.8 1483.3 838 1515.8 838.3 1550 C838.5 1584.2 838.9 1637.5 839 1655" fill="none" stroke="#f00000" stroke-width="2.9" stroke-dasharray="10.5 4.5" stroke-linejoin="round"/>
<polyline points="185.5,1641 197.2,1636.3 208.8,1633.5 220.5,1630.7 232.2,1628.5 243.9,1626.5 255.5,1625.1 267.2,1623.2 278.9,1621.5 290.5,1620.4 302.2,1619 313.9,1617.6 325.6,1616.2 337.2,1614.8 348.9,1614 360.6,1613.1 372.3,1612 383.9,1610.8 395.6,1609.4 407.3,1608.1 418.9,1606.2 430.6,1604.8 442.3,1602.8 454,1601 465.6,1598.8 477.3,1596.1 489,1593.2 500.6,1589.4 512.3,1585 524,1579.8 535.7,1573.2 547.3,1565.3 559,1556 570.7,1544.1 582.3,1530.8 594,1516.3 605.7,1502.2 617.4,1491.8 629,1485.5 640.7,1482.2 652.4,1478.6 664.1,1474.9 675.7,1470 687.4,1465.1 699.1,1461.6 710.7,1461 722.4,1461.9 734.1,1463.3 745.8,1464.9 757.4,1467.9 769.1,1471.1 780.8,1479.7 792.4,1504.4 804.1,1515.1 815.8,1504.4 827.5,1479.7 839.1,1224" fill="none" stroke="#000" stroke-width="1.5"/>
<circle cx="185.5" cy="1641" r="6.4"/>
<circle cx="197.2" cy="1636.3" r="6.4"/>
<circle cx="208.8" cy="1633.5" r="6.4"/>
<circle cx="220.5" cy="1630.7" r="6.4"/>
<circle cx="232.2" cy="1628.5" r="6.4"/>
<circle cx="243.9" cy="1626.5" r="6.4"/>
<circle cx="255.5" cy="1625.1" r="6.4"/>
<circle cx="267.2" cy="1623.2" r="6.4"/>
<circle cx="278.9" cy="1621.5" r="6.4"/>
<circle cx="290.5" cy="1620.4" r="6.4"/>
<circle cx="302.2" cy="1619" r="6.4"/>
<circle cx="313.9" cy="1617.6" r="6.4"/>
<circle cx="325.6" cy="1616.2" r="6.4"/>
<circle cx="337.2" cy="1614.8" r="6.4"/>
<circle cx="348.9" cy="1614" r="6.4"/>
<circle cx="360.6" cy="1613.1" r="6.4"/>
<circle cx="372.3" cy="1612" r="6.4"/>
<circle cx="383.9" cy="1610.8" r="6.4"/>
<circle cx="395.6" cy="1609.4" r="6.4"/>
<circle cx="407.3" cy="1608.1" r="6.4"/>
<circle cx="418.9" cy="1606.2" r="6.4"/>
<circle cx="430.6" cy="1604.8" r="6.4"/>
<circle cx="442.3" cy="1602.8" r="6.4"/>
<circle cx="454" cy="1601" r="6.4"/>
<circle cx="465.6" cy="1598.8" r="6.4"/>
<circle cx="477.3" cy="1596.1" r="6.4"/>
<circle cx="489" cy="1593.2" r="6.4"/>
<circle cx="500.6" cy="1589.4" r="6.4"/>
<circle cx="512.3" cy="1585" r="6.4"/>
<circle cx="524" cy="1579.8" r="6.4"/>
<circle cx="535.7" cy="1573.2" r="6.4"/>
<circle cx="547.3" cy="1565.3" r="6.4"/>
<circle cx="559" cy="1556" r="6.4"/>
<circle cx="570.7" cy="1544.1" r="6.4"/>
<circle cx="582.3" cy="1530.8" r="6.4"/>
<circle cx="594" cy="1516.3" r="6.4"/>
<circle cx="605.7" cy="1502.2" r="6.4"/>
<circle cx="617.4" cy="1491.8" r="6.4"/>
<circle cx="629" cy="1485.5" r="6.4"/>
<circle cx="640.7" cy="1482.2" r="6.4"/>
<circle cx="652.4" cy="1478.6" r="6.4"/>
<circle cx="664.1" cy="1474.9" r="6.4"/>
<circle cx="675.7" cy="1470" r="6.4"/>
<circle cx="687.4" cy="1465.1" r="6.4"/>
<circle cx="699.1" cy="1461.6" r="6.4"/>
<circle cx="710.7" cy="1461" r="6.4"/>
<circle cx="722.4" cy="1461.9" r="6.4"/>
<circle cx="734.1" cy="1463.3" r="6.4"/>
<circle cx="745.8" cy="1464.9" r="6.4"/>
<circle cx="757.4" cy="1467.9" r="6.4"/>
<circle cx="769.1" cy="1471.1" r="6.4"/>
<circle cx="780.8" cy="1479.7" r="6.4"/>
<circle cx="792.4" cy="1504.4" r="6.4"/>
<circle cx="804.1" cy="1515.1" r="6.4"/>
<circle cx="815.8" cy="1504.4" r="6.4"/>
<circle cx="827.5" cy="1479.7" r="6.4"/>
<circle cx="839.1" cy="1224" r="6.4"/>
</g>
<rect x="185.5" y="1164.9" width="654.7" height="485.2" fill="none" stroke="#000" stroke-width="3.2"/>
<path d="M168.3 1164.9H185.5M840.2 1164.9H856.7M168.3 1245.8H185.5M168.3 1326.6H185.5M840.2 1326.6H856.7M168.3 1407.5H185.5M168.3 1488.4H185.5M840.2 1488.4H856.7M168.3 1569.2H185.5M168.3 1650.1H185.5M840.2 1650.1H856.7" stroke="#000" stroke-width="3.2"/>
<path d="M176.2 1221.4H185.5M176.2 1207.2H185.5M176.2 1197.1H185.5M176.2 1189.2H185.5M176.2 1182.8H185.5M176.2 1177.4H185.5M176.2 1172.7H185.5M176.2 1168.6H185.5M176.2 1302.3H185.5M176.2 1288.1H185.5M176.2 1277.9H185.5M176.2 1270.1H185.5M176.2 1263.7H185.5M176.2 1258.3H185.5M176.2 1253.6H185.5M176.2 1249.5H185.5M176.2 1383.2H185.5M176.2 1368.9H185.5M176.2 1358.8H185.5M176.2 1351H185.5M176.2 1344.6H185.5M176.2 1339.2H185.5M176.2 1334.5H185.5M176.2 1330.3H185.5M176.2 1464H185.5M176.2 1449.8H185.5M176.2 1439.7H185.5M176.2 1431.8H185.5M176.2 1425.4H185.5M176.2 1420H185.5M176.2 1415.3H185.5M176.2 1411.2H185.5M176.2 1544.9H185.5M176.2 1530.7H185.5M176.2 1520.5H185.5M176.2 1512.7H185.5M176.2 1506.3H185.5M176.2 1500.9H185.5M176.2 1496.2H185.5M176.2 1492.1H185.5M176.2 1625.8H185.5M176.2 1611.5H185.5M176.2 1601.4H185.5M176.2 1593.6H185.5M176.2 1587.2H185.5M176.2 1581.8H185.5M176.2 1577.1H185.5M176.2 1572.9H185.5M840.2 1245.8H849.2M840.2 1407.5H849.2M840.2 1569.2H849.2M240.1 1650.1V1658.9M349.2 1650.1V1658.9M458.3 1650.1V1658.9M567.4 1650.1V1658.9M676.5 1650.1V1658.9M785.6 1650.1V1658.9" stroke="#000" stroke-width="2.2"/>
<path d="M185.5 1650.1V1666.6M294.6 1650.1V1666.6M403.7 1650.1V1666.6M512.9 1650.1V1666.6M622 1650.1V1666.6M731.1 1650.1V1666.6M840.2 1650.1V1666.6" stroke="#000" stroke-width="3.2"/>
<text x="73.35" y="1179.58" font-size="42.53" textLength="43.82" lengthAdjust="spacingAndGlyphs">10</text>
<text x="119.08" y="1161.30" font-size="26.88" textLength="32.41" lengthAdjust="spacingAndGlyphs" style="stroke-width:0.45px">22</text>
<text x="73.35" y="1260.45" font-size="42.53" textLength="43.82" lengthAdjust="spacingAndGlyphs">10</text>
<text x="119.07" y="1242.17" font-size="26.88" textLength="32.59" lengthAdjust="spacingAndGlyphs" style="stroke-width:0.45px">21</text>
<text x="73.35" y="1341.32" font-size="42.53" textLength="43.82" lengthAdjust="spacingAndGlyphs">10</text>
<text x="119.10" y="1322.78" font-size="26.38" textLength="31.81" lengthAdjust="spacingAndGlyphs" style="stroke-width:0.45px">20</text>
<text x="73.35" y="1422.18" font-size="42.53" textLength="43.82" lengthAdjust="spacingAndGlyphs">10</text>
<text x="117.55" y="1403.64" font-size="26.49" textLength="33.52" lengthAdjust="spacingAndGlyphs" style="stroke-width:0.45px">19</text>
<text x="73.35" y="1503.05" font-size="42.53" textLength="43.82" lengthAdjust="spacingAndGlyphs">10</text>
<text x="117.56" y="1484.51" font-size="26.38" textLength="33.41" lengthAdjust="spacingAndGlyphs" style="stroke-width:0.45px">18</text>
<text x="73.35" y="1583.92" font-size="42.53" textLength="43.82" lengthAdjust="spacingAndGlyphs">10</text>
<text x="117.59" y="1565.63" font-size="26.96" textLength="33.06" lengthAdjust="spacingAndGlyphs" style="stroke-width:0.45px">17</text>
<text x="73.35" y="1664.78" font-size="42.53" textLength="43.82" lengthAdjust="spacingAndGlyphs">10</text>
<text x="117.59" y="1646.24" font-size="26.49" textLength="33.09" lengthAdjust="spacingAndGlyphs" style="stroke-width:0.45px">16</text>
<text x="873.79" y="1179.28" font-size="42.99" textLength="43.30" lengthAdjust="spacingAndGlyphs">15</text>
<text x="873.53" y="1341.02" font-size="42.68" textLength="44.05" lengthAdjust="spacingAndGlyphs">10</text>
<text x="873.82" y="1502.74" font-size="43.34" textLength="23.96" lengthAdjust="spacingAndGlyphs">5</text>
<text x="874.82" y="1664.48" font-size="42.68" textLength="23.36" lengthAdjust="spacingAndGlyphs">0</text>
<g transform="translate(43.0 1629.9) rotate(-90)">
<text x="-0.82" y="0.00" font-size="48.72" textLength="382.28" lengthAdjust="spacingAndGlyphs">Number density [m</text>
<text x="384.45" y="-17.70" font-size="24.09" textLength="27.75" lengthAdjust="spacingAndGlyphs">−</text>
<text x="413.36" y="-17.32" font-size="32.74" textLength="16.10" lengthAdjust="spacingAndGlyphs">3</text>
<text x="434.19" y="3.80" font-size="55.34" textLength="7.48" lengthAdjust="spacingAndGlyphs">]</text>
</g>
<g transform="translate(973.0 1475) rotate(-90)">
<text x="-1.17" y="-0.95" font-size="46.74" textLength="25.84" lengthAdjust="spacingAndGlyphs" font-style="italic" style="stroke-width:0">u</text>
<text x="26.38" y="5.51" font-size="29.73" textLength="16.19" lengthAdjust="spacingAndGlyphs">e</text>
<text x="56.35" y="2.52" font-size="55.94" textLength="77.70" lengthAdjust="spacingAndGlyphs">[eV]</text>
</g>
<text x="186.33" y="33.90" font-size="46.27" textLength="42.15" lengthAdjust="spacingAndGlyphs">M</text>
<text x="229.06" y="44.56" font-size="67.19" textLength="36.72" lengthAdjust="spacingAndGlyphs">+</text>
<text x="797.52" y="33.81" font-size="46.90" textLength="34.49" lengthAdjust="spacingAndGlyphs">D</text>
<text x="832.46" y="33.50" font-size="38.82" textLength="14.74" lengthAdjust="spacingAndGlyphs">-</text>
<text x="0.54" y="57.04" font-size="51.50" textLength="54.63" lengthAdjust="spacingAndGlyphs">(a)</text>
<text x="0.55" y="614.94" font-size="51.50" textLength="57.00" lengthAdjust="spacingAndGlyphs">(b)</text>
<text x="0.66" y="1172.94" font-size="51.50" textLength="51.59" lengthAdjust="spacingAndGlyphs">(c)</text>
<text x="207.19" y="105.25" font-size="46.08" textLength="108.96" lengthAdjust="spacingAndGlyphs">50.40</text>
<text x="321.08" y="105.13" font-size="43.56" textLength="45.63" lengthAdjust="spacingAndGlyphs">µs</text>
<text x="206.90" y="662.58" font-size="44.02" textLength="108.44" lengthAdjust="spacingAndGlyphs">50.48</text>
<text x="326.97" y="662.69" font-size="40.93" textLength="42.94" lengthAdjust="spacingAndGlyphs">µs</text>
<text x="206.96" y="1220.28" font-size="43.88" textLength="105.93" lengthAdjust="spacingAndGlyphs">50.50</text>
<text x="324.13" y="1220.39" font-size="40.93" textLength="43.91" lengthAdjust="spacingAndGlyphs">µs</text>
<text x="156.80" y="1713.22" font-size="41.23" textLength="55.91" lengthAdjust="spacingAndGlyphs">0.0</text>
<text x="256.05" y="1713.22" font-size="41.23" textLength="75.84" lengthAdjust="spacingAndGlyphs">0.25</text>
<text x="375.31" y="1713.22" font-size="41.23" textLength="55.42" lengthAdjust="spacingAndGlyphs">0.5</text>
<text x="473.21" y="1713.22" font-size="41.23" textLength="77.62" lengthAdjust="spacingAndGlyphs">0.75</text>
<text x="592.85" y="1713.22" font-size="41.23" textLength="56.16" lengthAdjust="spacingAndGlyphs">1.0</text>
<text x="691.15" y="1713.21" font-size="41.40" textLength="78.60" lengthAdjust="spacingAndGlyphs">1.25</text>
<text x="811.85" y="1713.21" font-size="41.52" textLength="56.21" lengthAdjust="spacingAndGlyphs">1.5</text>
<text x="447.52" y="1774.90" font-size="44.23" textLength="18.09" lengthAdjust="spacingAndGlyphs" font-style="italic">z</text>
<text x="478.13" y="1779.00" font-size="55.34" textLength="100.84" lengthAdjust="spacingAndGlyphs">[mm]</text>
<rect x="446.2" y="77.5" width="385.3" height="174.8" fill="#a4a4a4"/>
<rect x="436.3" y="68" width="385.3" height="174.8" fill="#fff" stroke="#000" stroke-width="2.4"/>
<path d="M449.3 96.6H528.9" fill="none" stroke="#0000ff" stroke-width="3.0" stroke-linejoin="round"/>
<path d="M451 149.8H528" fill="none" stroke="#000" stroke-width="2.9" stroke-dasharray="2.8 4.7" stroke-linejoin="round"/>
<path d="M450.7 204.6H530" fill="none" stroke="#007400" stroke-width="2.9" stroke-dasharray="8.5 14.1 2.8 14.1" stroke-linejoin="round"/>
<path d="M626.8 96.4H703.5" fill="none" stroke="#f00000" stroke-width="2.9" stroke-dasharray="10.5 4.5" stroke-linejoin="round"/>
<path d="M625.6 158.5H703.5" fill="none" stroke="#e09c28" stroke-width="2.5" stroke-dasharray="2.5 2.9" stroke-linejoin="round"/>
<text x="557.87" y="109.26" font-size="34.31" textLength="18.47" lengthAdjust="spacingAndGlyphs">e</text>
<text x="560.11" y="162.60" font-size="35.45" textLength="42.14" lengthAdjust="spacingAndGlyphs">Ar</text>
<text x="604.76" y="161.38" font-size="34.63" textLength="15.74" lengthAdjust="spacingAndGlyphs">*</text>
<text x="560.11" y="217.00" font-size="36.36" textLength="42.14" lengthAdjust="spacingAndGlyphs">Ar</text>
<text x="604.76" y="213.71" font-size="31.63" textLength="15.74" lengthAdjust="spacingAndGlyphs">*</text>
<text x="604.91" y="227.00" font-size="22.35" textLength="15.84" lengthAdjust="spacingAndGlyphs">2</text>
<text x="735.31" y="109.20" font-size="36.96" textLength="42.14" lengthAdjust="spacingAndGlyphs">Ar</text>
<text x="779.78" y="102.35" font-size="41.86" textLength="25.09" lengthAdjust="spacingAndGlyphs">+</text>
<text x="735.31" y="171.20" font-size="36.66" textLength="42.14" lengthAdjust="spacingAndGlyphs">Ar</text>
<text x="779.78" y="162.05" font-size="41.86" textLength="25.09" lengthAdjust="spacingAndGlyphs">+</text>
<text x="780.53" y="182.20" font-size="23.86" textLength="16.71" lengthAdjust="spacingAndGlyphs">2</text>
<rect x="590.9" y="641.3" width="175.3" height="63.5" fill="#a4a4a4"/>
<rect x="580.7" y="631" width="175.3" height="63.5" fill="#fff" stroke="#000" stroke-width="2.4"/>
<path d="M594.8 659H672.5" stroke="#000" stroke-width="1.5"/>
<circle cx="633.6" cy="659" r="6.4"/>
<text x="701.64" y="671.87" font-size="36.33" textLength="22.70" lengthAdjust="spacingAndGlyphs" font-style="italic" style="stroke-width:0">u</text>
<text x="726.18" y="676.45" font-size="25.16" textLength="13.91" lengthAdjust="spacingAndGlyphs">e</text>
</svg></body></html>
